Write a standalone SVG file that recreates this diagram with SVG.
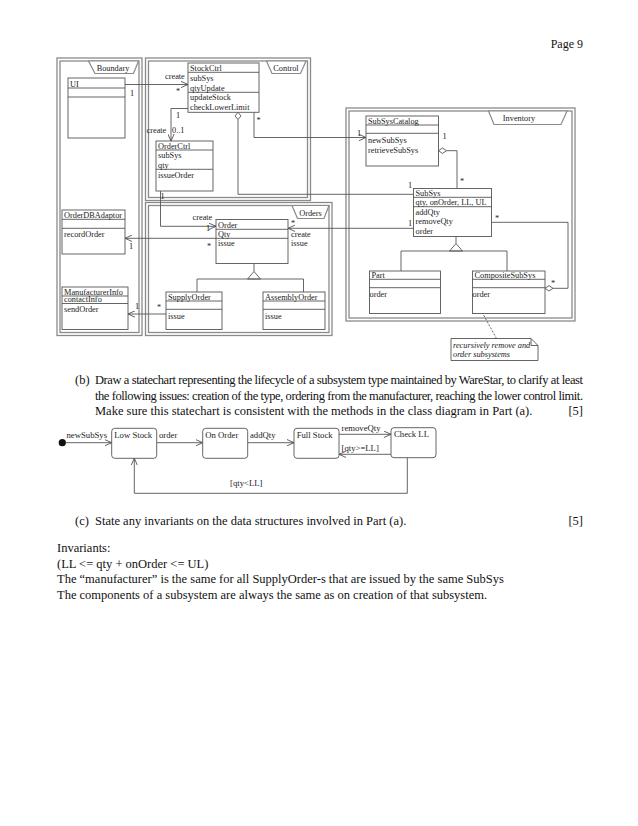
<svg xmlns="http://www.w3.org/2000/svg" width="638" height="826" viewBox="0 0 638 826">
<defs>
<marker id="arr" viewBox="0 0 10 10" refX="10" refY="5" markerWidth="7" markerHeight="7" markerUnits="userSpaceOnUse" orient="auto">
<path d="M0,0.5 L10,5 L0,9.5" fill="none" stroke="#444" stroke-width="1.2"/>
</marker>
</defs>
<style>
.pkg{fill:none;stroke:#8a8a8a;stroke-width:1.3}
.tab{fill:#fff;stroke:#8a8a8a;stroke-width:1.2}
.box{fill:#fff;stroke:#555;stroke-width:0.9}
.div{stroke:#555;stroke-width:0.9}
.ln{fill:none;stroke:#555;stroke-width:0.9}
.ar{fill:none;stroke:#555;stroke-width:0.9;marker-end:url(#arr)}
.t{font-family:"Liberation Serif","Times New Roman",serif;font-size:8.3px;fill:#222}
.s{font-family:"Liberation Serif","Times New Roman",serif;font-size:8.7px;fill:#222}
.p{font-family:"Liberation Serif","Times New Roman",serif;font-size:12.5px;fill:#111}
.st{fill:#fff;stroke:#555;stroke-width:0.9}
</style>
<rect width="638" height="826" fill="#fff"/>
<text class="p" x="583" y="48" text-anchor="end" style="font-size:12px">Page 9</text>

<!-- packages -->
<g id="pkg-boundary">
<rect class="pkg" x="57" y="58" width="85" height="277.5"/>
<rect class="pkg" x="60" y="61" width="79" height="271.5"/>
<polygon class="tab" points="88.5,61 138.5,61 133.5,73.5 95,73.5"/>
<text class="t" x="113" y="71" text-anchor="middle">Boundary</text>
</g>
<g id="pkg-control">
<rect class="pkg" x="145.5" y="58" width="165" height="142.5"/>
<rect class="pkg" x="148.5" y="61" width="159" height="136.5"/>
<polygon class="tab" points="266.5,61 306,61 300.5,73.5 272,73.5"/>
<text class="t" x="286" y="71" text-anchor="middle">Control</text>
</g>
<g id="pkg-orders">
<rect class="pkg" x="145.5" y="202.5" width="186.5" height="133"/>
<rect class="pkg" x="148.5" y="205.5" width="180.5" height="127"/>
<polygon class="tab" points="292,205.5 329,205.5 324,218.5 297.5,218.5"/>
<text class="t" x="310.5" y="215.5" text-anchor="middle">Orders</text>
</g>
<g id="pkg-inventory">
<rect class="pkg" x="346" y="108" width="229" height="213"/>
<rect class="pkg" x="349" y="111" width="223" height="207"/>
<polygon class="tab" points="488.5,111 567,111 561,124.5 494,124.5"/>
<text class="t" x="519" y="120.5" text-anchor="middle">Inventory</text>
</g>

<!-- connectors -->
<g id="connectors">
<path class="ar" d="M125,84.5 H188"/>
<path class="ar" d="M188,108.5 H171 V141"/>
<path class="ar" d="M254,112.3 V137.5 H366"/>
<path class="ln" d="M238,119.5 V194.3 H413.5"/>
<polygon points="238,112.3 241,115.9 238,119.5 235,115.9" fill="#fff" stroke="#555" stroke-width="0.9"/>
<path class="ar" d="M160.5,191 V226.3 H216"/>
<path class="ar" d="M216,238.3 H125"/>
<path class="ar" d="M166,314 H128"/>
<path class="ln" d="M254,263.5 V271.5"/>
<polygon points="254,271.5 247.5,279 260.5,279" fill="#fff" stroke="#555" stroke-width="0.9"/>
<path class="ln" d="M197,292 V279 H303.5 V292"/>
<path class="ar" d="M413.5,228.3 H288"/>
<path class="ln" d="M446.5,150.7 H457 V188.5"/>
<polygon points="438.5,150.7 442.5,148 446.5,150.7 442.5,153.4" fill="#fff" stroke="#555" stroke-width="0.9"/>
<path class="ln" d="M491.5,222.3 H568 V288.3 H553"/>
<polygon points="545,288.3 549,285.6 553,288.3 549,291" fill="#fff" stroke="#555" stroke-width="0.9"/>
<path class="ln" d="M456,236.5 V243.5"/>
<polygon points="456,243.5 449.5,251 462.5,251" fill="#fff" stroke="#555" stroke-width="0.9"/>
<path class="ln" d="M401,271 V251 H507 V271"/>
<path class="ln" d="M477,303 L496.5,338.5" stroke-dasharray="2,1.5"/>

<text class="t" x="165" y="78.5">create</text>
<text class="t" x="130" y="95.5">1</text>
<text class="t" x="176" y="93.5">*</text>
<text class="t" x="176" y="118">1</text>
<text class="t" x="146.5" y="133">create</text>
<text class="t" x="172" y="133">0..1</text>
<text class="t" x="256.5" y="123">*</text>
<text class="t" x="357" y="135.5">1</text>
<text class="t" x="408" y="188">1</text>
<text class="t" x="160.5" y="199">1</text>
<text class="t" x="192.5" y="220">create</text>
<text class="t" x="206" y="231">1</text>
<text class="t" x="129" y="249">1</text>
<text class="t" x="207" y="248.5">*</text>
<text class="t" x="135" y="309">1</text>
<text class="t" x="157" y="309.5">*</text>
<text class="t" x="408" y="226">1</text>
<text class="t" x="291" y="226">*</text>
<text class="t" x="291" y="236.5">create</text>
<text class="t" x="291" y="245.5">issue</text>
<text class="t" x="442.5" y="139">1</text>
<text class="t" x="460" y="183.5">*</text>
<text class="t" x="495" y="220.5">*</text>
<text class="t" x="551" y="286">*</text>
</g>

<!-- classes -->
<g id="UI">
<rect class="box" x="68" y="78" width="57" height="60"/>
<line class="div" x1="68" y1="88" x2="125" y2="88"/>
<line class="div" x1="68" y1="97" x2="125" y2="97"/>
<text class="t" x="70" y="86.5">UI</text>
</g>
<g id="StockCtrl">
<rect class="box" x="188" y="63" width="71" height="49.3"/>
<line class="div" x1="188" y1="72.3" x2="259" y2="72.3"/>
<line class="div" x1="188" y1="92.3" x2="259" y2="92.3"/>
<text class="t" x="190" y="70.8">StockCtrl</text>
<text class="t" x="190" y="80.5">subSys</text>
<text class="t" x="190" y="90.5">qtyUpdate</text>
<text class="t" x="190" y="100">updateStock</text>
<text class="t" x="190" y="109.5">checkLowerLimit</text>
</g>
<g id="OrderCtrl">
<rect class="box" x="156" y="141" width="57" height="50"/>
<line class="div" x1="156" y1="150" x2="213" y2="150"/>
<line class="div" x1="156" y1="169.3" x2="213" y2="169.3"/>
<text class="t" x="158" y="148.5">OrderCtrl</text>
<text class="t" x="158" y="158">subSys</text>
<text class="t" x="158" y="167.5">qty</text>
<text class="t" x="158" y="177.5">issueOrder</text>
</g>
<g id="OrderDBAdaptor">
<rect class="box" x="62" y="210" width="63" height="44"/>
<line class="div" x1="62" y1="219.3" x2="125" y2="219.3"/>
<line class="div" x1="62" y1="228.3" x2="125" y2="228.3"/>
<text class="t" x="64" y="217.8">OrderDBAdaptor</text>
<text class="t" x="64" y="237">recordOrder</text>
</g>
<g id="ManufacturerInfo">
<rect class="box" x="62" y="287" width="66" height="42.5"/>
<line class="div" x1="62" y1="296" x2="128" y2="296"/>
<line class="div" x1="62" y1="303.5" x2="128" y2="303.5"/>
<text class="t" x="64" y="294.5">ManufacturerInfo</text>
<text class="t" x="64" y="302.3">contactInfo</text>
<text class="t" x="64" y="311.5">sendOrder</text>
</g>
<g id="Order">
<rect class="box" x="216" y="219.5" width="72" height="44"/>
<line class="div" x1="216" y1="229.3" x2="288" y2="229.3"/>
<line class="div" x1="216" y1="238.3" x2="288" y2="238.3"/>
<text class="t" x="218" y="227.5">Order</text>
<text class="t" x="218" y="236.8">Qty</text>
<text class="t" x="218" y="246">issue</text>
</g>
<g id="SupplyOrder">
<rect class="box" x="166" y="292" width="56" height="37.5"/>
<line class="div" x1="166" y1="301" x2="222" y2="301"/>
<line class="div" x1="166" y1="309.3" x2="222" y2="309.3"/>
<text class="t" x="168" y="299.5">SupplyOrder</text>
<text class="t" x="168" y="319">issue</text>
</g>
<g id="AssemblyOrder">
<rect class="box" x="263" y="292" width="62" height="37.5"/>
<line class="div" x1="263" y1="301" x2="325" y2="301"/>
<line class="div" x1="263" y1="309.3" x2="325" y2="309.3"/>
<text class="t" x="265" y="299.5">AssemblyOrder</text>
<text class="t" x="265" y="319">issue</text>
</g>
<g id="SubSysCatalog">
<rect class="box" x="366" y="116" width="72.5" height="50"/>
<line class="div" x1="366" y1="125" x2="438.5" y2="125"/>
<line class="div" x1="366" y1="133.3" x2="438.5" y2="133.3"/>
<text class="t" x="368" y="123.5">SubSysCatalog</text>
<text class="t" x="368" y="143">newSubSys</text>
<text class="t" x="368" y="152.5">retrieveSubSys</text>
</g>
<g id="SubSys">
<rect class="box" x="413.5" y="188.5" width="78" height="48"/>
<line class="div" x1="413.5" y1="197.3" x2="491.5" y2="197.3"/>
<line class="div" x1="413.5" y1="206.7" x2="491.5" y2="206.7"/>
<text class="t" x="415.5" y="196">SubSys</text>
<text class="t" x="415.5" y="205.3">qty, onOrder, LL, UL</text>
<text class="t" x="415.5" y="214.8">addQty</text>
<text class="t" x="415.5" y="224.3">removeQty</text>
<text class="t" x="415.5" y="233.8">order</text>
</g>
<g id="Part">
<rect class="box" x="369.5" y="271" width="71" height="42.5"/>
<line class="div" x1="369.5" y1="279.3" x2="440.5" y2="279.3"/>
<line class="div" x1="369.5" y1="287.7" x2="440.5" y2="287.7"/>
<text class="t" x="371.5" y="277.8">Part</text>
<text class="t" x="369.5" y="296.5">order</text>
</g>
<g id="CompositeSubSys">
<rect class="box" x="472.5" y="271" width="72.5" height="42.5"/>
<line class="div" x1="472.5" y1="279.3" x2="545" y2="279.3"/>
<line class="div" x1="472.5" y1="287.7" x2="545" y2="287.7"/>
<text class="t" x="474.5" y="277.8">CompositeSubSys</text>
<text class="t" x="472.5" y="296.5">order</text>
</g>
<g id="note">
<path d="M451,338.5 H531 L538,345.5 V360.5 H451 Z" fill="#fff" stroke="#555" stroke-width="0.9"/>
<path d="M531,338.5 V345.5 H538" fill="none" stroke="#555" stroke-width="0.9"/>
<text class="t" x="453" y="347.5" font-style="italic">recursively remove and</text>
<text class="t" x="453" y="357" font-style="italic">order subsystems</text>
</g>

<!-- part b text -->
<g id="text-b">
<text class="p" x="75" y="384">(b)</text>
<text class="p" x="95" y="384" textLength="488" lengthAdjust="spacing">Draw a statechart representing the lifecycle of a subsystem type maintained by WareStar, to clarify at least</text>
<text class="p" x="95" y="399.5" textLength="488" lengthAdjust="spacing">the following issues: creation of the type, ordering from the manufacturer, reaching the lower control limit.</text>
<text class="p" x="95" y="415">Make sure this statechart is consistent with the methods in the class diagram in Part (a).</text>
<text class="p" x="583" y="415" text-anchor="end">[5]</text>
</g>

<!-- statechart -->
<g id="state-connectors">
<circle cx="62.3" cy="442.7" r="3.6" fill="#111"/>
<path class="ar" d="M66,442.7 H111.7"/>
<path class="ar" d="M156.7,442.7 H202.7"/>
<path class="ar" d="M247.7,442.7 H294"/>
<path class="ar" d="M339,434.3 H391"/>
<path class="ar" d="M391,454.3 H339"/>
<path class="ar" d="M407.3,457.7 V493.3 H134.3 V458.3"/>
<text class="s" x="66.5" y="438">newSubSys</text>
<text class="s" x="159" y="438">order</text>
<text class="s" x="250" y="438">addQty</text>
<text class="s" x="341.5" y="431">removeQty</text>
<text class="s" x="341.5" y="450.5">[qty&gt;=LL]</text>
<text class="s" x="230" y="486">[qty&lt;LL]</text>
</g>
<g id="LowStock">
<rect class="st" x="111.7" y="428.3" width="45" height="30" rx="3"/>
<text class="s" x="114.3" y="438">Low Stock</text>
</g>
<g id="OnOrder">
<rect class="st" x="202.7" y="428.3" width="45" height="30" rx="3"/>
<text class="s" x="205.3" y="438">On Order</text>
</g>
<g id="FullStock">
<rect class="st" x="294" y="428.3" width="45" height="30" rx="3"/>
<text class="s" x="296.7" y="438">Full Stock</text>
</g>
<g id="CheckLL">
<rect class="st" x="391" y="427.7" width="45" height="30" rx="3"/>
<text class="s" x="394" y="437">Check LL</text>
</g>

<!-- part c text -->
<g id="text-c">
<text class="p" x="75" y="525">(c)</text>
<text class="p" x="95" y="525">State any invariants on the data structures involved in Part (a).</text>
<text class="p" x="583" y="525" text-anchor="end">[5]</text>
<text class="p" x="57" y="552">Invariants:</text>
<text class="p" x="57" y="567.5">(LL &lt;= qty + onOrder &lt;= UL)</text>
<text class="p" x="57" y="583">The “manufacturer” is the same for all SupplyOrder-s that are issued by the same SubSys</text>
<text class="p" x="57" y="598.5">The components of a subsystem are always the same as on creation of that subsystem.</text>
</g>
</svg>
